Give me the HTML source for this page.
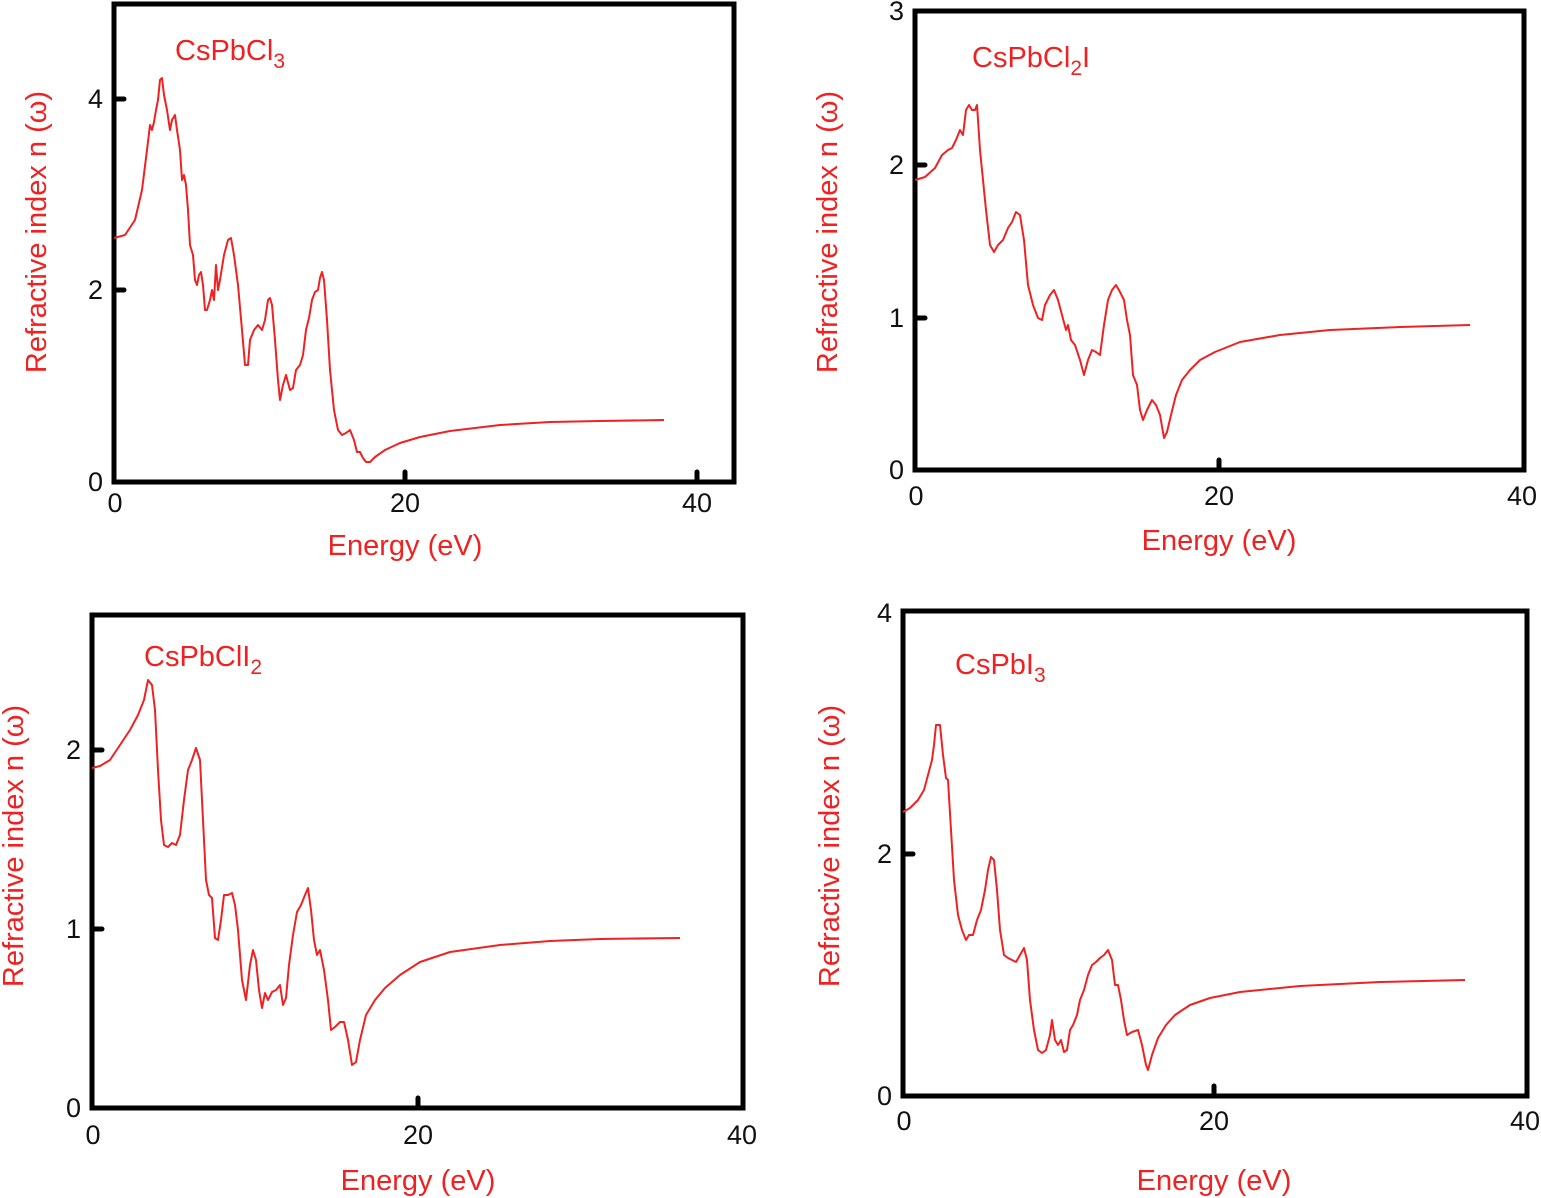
<!DOCTYPE html>
<html><head><meta charset="utf-8"><style>
html,body{margin:0;padding:0;background:#fff;}
svg{display:block;}
text{font-family:"Liberation Sans",Arial,sans-serif;}
.t{font-size:27px;fill:#111;}
.r{font-size:29px;fill:#ee2222;}
.c{fill:none;stroke:#ee2222;stroke-width:2;stroke-linejoin:round;}
.b{fill:none;stroke:#000;stroke-width:5;}
.k{stroke:#000;stroke-width:5;stroke-linecap:round;}
</style></head><body>
<svg width="1541" height="1198" viewBox="0 0 1541 1198">
<!-- Panel 1 -->
<rect class="b" x="114" y="4" width="620" height="478"/>
<line class="k" x1="114" y1="99" x2="124" y2="99"/><line class="k" x1="114" y1="290" x2="124" y2="290"/>
<line class="k" x1="405" y1="482" x2="405" y2="472"/><line class="k" x1="697" y1="482" x2="697" y2="472"/>
<text class="t" x="103" y="108" text-anchor="end">4</text>
<text class="t" x="103" y="299" text-anchor="end">2</text>
<text class="t" x="103" y="491" text-anchor="end">0</text>
<text class="t" x="115" y="512" text-anchor="middle">0</text>
<text class="t" x="405" y="512" text-anchor="middle">20</text>
<text class="t" x="697" y="512" text-anchor="middle">40</text>
<text class="r" x="405" y="555" text-anchor="middle">Energy (eV)</text>
<text class="r" transform="translate(46,232) rotate(-90)" text-anchor="middle">Refractive index n (ω)</text>
<text class="r" x="175" y="60">CsPbCl<tspan font-size="21" dy="8">3</tspan></text>
<polyline class="c" points="114,238 125,235 135,220 142,190 147,150 150,125 152,130 154,122 156,110 158,100 160,80 162,78 164,95 167,110 170,130 172,120 175,115 177,130 180,150 182,180 184,175 186,185 188,210 190,245 193,255 195,280 197,285 199,275 201,272 203,285 205,310 207,310 210,300 212,290 214,300 216,265 218,290 220,280 224,255 228,240 231,238 234,255 238,285 242,330 245,365 248,365 250,340 254,330 258,325 262,330 265,320 268,300 270,298 272,305 275,340 278,380 280,400 283,385 286,375 290,390 293,388 296,370 300,365 303,355 306,330 309,318 312,300 315,292 318,290 320,278 322,272 324,280 327,320 330,370 334,410 338,430 342,435 346,433 350,430 354,440 357,452 360,452 363,458 366,462 370,462 375,457 385,450 400,443 420,437 450,431 500,425 550,422 600,421 664,420"/>

<!-- Panel 2 -->
<rect class="b" x="915" y="11" width="609" height="459"/>
<line class="k" x1="915" y1="318" x2="925" y2="318"/><line class="k" x1="915" y1="165" x2="925" y2="165"/>
<line class="k" x1="1219" y1="470" x2="1219" y2="460"/>
<text class="t" x="904" y="20" text-anchor="end">3</text>
<text class="t" x="904" y="174" text-anchor="end">2</text>
<text class="t" x="904" y="327" text-anchor="end">1</text>
<text class="t" x="904" y="479" text-anchor="end">0</text>
<text class="t" x="916" y="505" text-anchor="middle">0</text>
<text class="t" x="1219" y="505" text-anchor="middle">20</text>
<text class="t" x="1522" y="505" text-anchor="middle">40</text>
<text class="r" x="1219" y="550" text-anchor="middle">Energy (eV)</text>
<text class="r" transform="translate(837,232) rotate(-90)" text-anchor="middle">Refractive index n (ω)</text>
<text class="r" x="972" y="67">CsPbCl<tspan font-size="21" dy="8">2</tspan><tspan dy="-8">I</tspan></text>
<polyline class="c" points="915,180 925,177 935,168 942,155 948,150 952,148 956,140 960,130 963,135 966,110 969,105 972,110 975,110 977,105 980,150 983,180 986,210 990,245 994,252 998,245 1003,240 1008,228 1012,222 1016,212 1020,215 1024,240 1028,285 1033,305 1038,318 1042,320 1045,305 1050,295 1054,290 1058,300 1062,315 1066,330 1068,325 1071,340 1075,345 1080,360 1084,375 1088,360 1092,350 1096,352 1100,355 1104,325 1108,300 1112,290 1116,285 1120,292 1124,300 1127,320 1130,335 1133,375 1137,385 1140,410 1143,420 1147,410 1152,400 1156,405 1160,415 1164,438 1167,432 1171,415 1176,395 1182,380 1190,370 1200,360 1215,352 1240,342 1280,335 1330,330 1400,327 1470,325"/>

<!-- Panel 3 -->
<rect class="b" x="92" y="615" width="651" height="493"/>
<line class="k" x1="92" y1="750" x2="102" y2="750"/><line class="k" x1="92" y1="929" x2="102" y2="929"/>
<line class="k" x1="418" y1="1108" x2="418" y2="1098"/>
<text class="t" x="81" y="759" text-anchor="end">2</text>
<text class="t" x="81" y="938" text-anchor="end">1</text>
<text class="t" x="81" y="1117" text-anchor="end">0</text>
<text class="t" x="93" y="1144" text-anchor="middle">0</text>
<text class="t" x="418" y="1144" text-anchor="middle">20</text>
<text class="t" x="742" y="1144" text-anchor="middle">40</text>
<text class="r" x="418" y="1190" text-anchor="middle">Energy (eV)</text>
<text class="r" transform="translate(23,846) rotate(-90)" text-anchor="middle">Refractive index n (ω)</text>
<text class="r" x="144" y="666">CsPbClI<tspan font-size="21" dy="8">2</tspan></text>
<polyline class="c" points="92,768 100,766 110,760 120,745 130,730 138,715 144,700 148,680 152,685 155,710 158,770 161,820 164,845 168,847 172,843 176,845 180,835 184,800 188,770 192,760 196,748 200,760 203,820 206,880 209,895 212,898 215,938 218,940 221,920 224,895 228,895 232,893 235,905 238,930 242,980 246,1000 250,965 253,950 256,960 259,990 262,1008 265,993 268,1000 272,992 276,990 280,985 283,1005 286,998 289,965 293,935 297,912 301,905 305,895 308,888 311,910 314,940 317,955 320,950 324,970 328,1000 331,1030 335,1027 340,1022 344,1022 348,1040 352,1065 356,1062 360,1040 366,1015 375,1000 385,988 400,975 420,962 450,952 500,945 550,941 600,939 680,938"/>

<!-- Panel 4 -->
<rect class="b" x="903" y="611" width="624" height="485"/>
<line class="k" x1="903" y1="854" x2="913" y2="854"/>
<line class="k" x1="1214" y1="1096" x2="1214" y2="1086"/>
<text class="t" x="892" y="622" text-anchor="end">4</text>
<text class="t" x="892" y="863" text-anchor="end">2</text>
<text class="t" x="892" y="1105" text-anchor="end">0</text>
<text class="t" x="904" y="1130" text-anchor="middle">0</text>
<text class="t" x="1214" y="1130" text-anchor="middle">20</text>
<text class="t" x="1525" y="1130" text-anchor="middle">40</text>
<text class="r" x="1214" y="1190" text-anchor="middle">Energy (eV)</text>
<text class="r" transform="translate(839,846) rotate(-90)" text-anchor="middle">Refractive index n (ω)</text>
<text class="r" x="955" y="674">CsPbI<tspan font-size="21" dy="8">3</tspan></text>
<polyline class="c" points="903,812 910,808 918,800 924,790 928,775 932,760 934,745 936,725 940,725 943,755 946,778 948,780 951,830 954,880 958,915 962,930 966,940 969,935 973,935 977,920 981,910 985,890 988,870 991,857 994,860 997,890 1000,930 1004,955 1008,958 1012,960 1016,962 1020,955 1024,948 1027,960 1030,1000 1034,1030 1038,1050 1042,1053 1046,1050 1050,1035 1052,1020 1055,1040 1058,1045 1061,1040 1064,1052 1067,1050 1070,1030 1073,1025 1077,1015 1080,1000 1084,990 1088,975 1092,965 1096,962 1100,958 1104,955 1108,950 1112,960 1115,985 1118,985 1121,1000 1124,1020 1127,1035 1132,1032 1138,1030 1142,1045 1146,1065 1148,1070 1152,1055 1158,1038 1166,1025 1175,1015 1190,1005 1210,998 1240,992 1300,986 1380,982 1465,980"/>
</svg>
</body></html>
